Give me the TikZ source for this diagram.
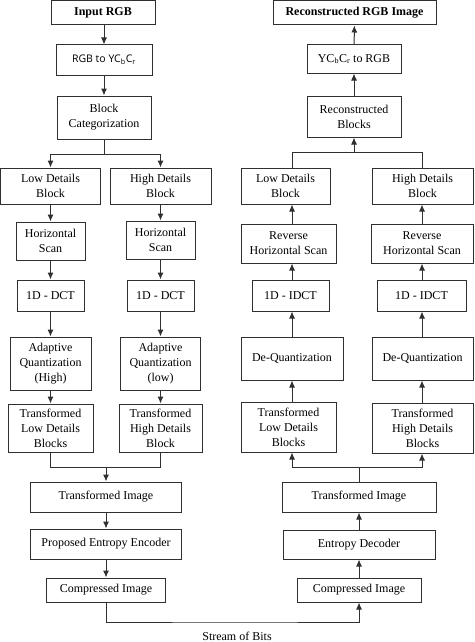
\documentclass[tikz,border=0pt]{standalone}
\usepackage{fontspec}
\setmainfont{Liberation Serif}
\newfontfamily\ycfont{Open Sans}
\usetikzlibrary{arrows.meta}
\definecolor{edge}{HTML}{303030}
\tikzset{
  blk/.style={draw=edge, line width=1pt, align=center,
    font=\fontsize{12}{15}\selectfont},
  sz/.style 2 args={minimum width=#1pt, minimum height=#2pt},
  ln/.style={draw=edge, line width=1pt},
  arr/.style={ln, -{Latex[length=7pt,width=6pt]}},
}

\begin{document}
\begin{tikzpicture}[x=1pt, y=-1pt, every node/.style={inner sep=0pt}]

\useasboundingbox (0,0) rectangle (474,642);

% columns the connectors run along
\coordinate (cA) at (104,0);
\coordinate (cR1) at (292,0);
\coordinate (cR2) at (422,0);
\coordinate (splitL) at (104,154);
\coordinate (joinR) at (354,152);
\coordinate (mergeL) at (106,467);
\coordinate (mergeR) at (359,467);
\coordinate (bits) at (237,622);

% encoder, left
\node[blk, sz={104}{24}] (inrgb) at (103,13) {\bfseries Input RGB};
\node[blk, sz={96}{30}] (ycc) at (104,60)
  {\ycfont\fontsize{10.5}{12}\selectfont RGB to YC\textsubscript{b}C\textsubscript{r}};
\node[blk, sz={94}{43}] (categ) at (104,117.5) {Block\\Categorization};

\node[blk, sz={100}{36}] (lo-blk) at (50.5,186) {Low Details\\Block};
\node[blk, sz={69}{38}] (lo-scan) at (50.5,241) {Horizontal\\Scan};
\node[blk, sz={67}{31}] (lo-dct) at (50.5,295.5) {1D - DCT};
\node[blk, sz={81}{53}] (lo-quant) at (50.5,363.5) {Adaptive\\Quantization\\(High)};
\node[blk, sz={85}{48}] (lo-tr) at (50.5,428) {Transformed\\Low Details\\Blocks};

\node[blk, sz={101}{36}] (hi-blk) at (160.5,186) {High Details\\Block};
\node[blk, sz={69}{38}] (hi-scan) at (160.5,240) {Horizontal\\Scan};
\node[blk, sz={67}{31}] (hi-dct) at (160.5,295.5) {1D - DCT};
\node[blk, sz={80}{53}] (hi-quant) at (160.5,363.5) {Adaptive\\Quantization\\(low)};
\node[blk, sz={83}{48}] (hi-tr) at (160.5,428) {Transformed\\High Details\\Block};

\node[blk, sz={151}{30}] (timgL) at (106,497) {Transformed Image};
\node[blk, sz={151}{30}] (enc) at (106,544) {Proposed Entropy Encoder};
\node[blk, sz={119}{24}] (compL) at (106,590) {Compressed Image};

% decoder, right
\node[blk, sz={163}{24}] (outrgb) at (354.5,13) {\bfseries Reconstructed RGB Image};
\node[blk, sz={94}{28}] (rgbback) at (354,59) {YC\textsubscript{b}C\textsubscript{r} to RGB};
\node[blk, sz={94}{41}] (recblk) at (354,116.5) {Reconstructed\\Blocks};

\node[blk, sz={89}{36}] (dlo-blk) at (285.5,186) {Low Details\\Block};
\node[blk, sz={95}{39}] (dlo-scan) at (288.5,243.5) {Reverse\\Horizontal Scan};
\node[blk, sz={77}{31}] (dlo-idct) at (290.5,295.5) {1D - IDCT};
\node[blk, sz={102}{43}] (dlo-dq) at (292,358.5) {De-Quantization};
\node[blk, sz={95}{50}] (dlo-tr) at (288.5,427) {Transformed\\Low Details\\Blocks};

\node[blk, sz={101}{36}] (dhi-blk) at (422.5,186) {High Details\\Block};
\node[blk, sz={102}{39}] (dhi-scan) at (422,243.5) {Reverse\\Horizontal Scan};
\node[blk, sz={89}{31}] (dhi-idct) at (421.5,295.5) {1D - IDCT};
\node[blk, sz={101}{43}] (dhi-dq) at (422.5,358.5) {De-Quantization};
\node[blk, sz={101}{50}] (dhi-tr) at (422.5,428) {Transformed\\High Details\\Blocks};

\node[blk, sz={154}{30}] (timgR) at (359,497) {Transformed Image};
\node[blk, sz={152}{29}] (dec) at (359,544.5) {Entropy Decoder};
\node[blk, sz={124}{24}] (compR) at (359,590) {Compressed Image};

\node[font=\fontsize{12}{15}\selectfont] (bitsLbl) at (237,636) {Stream of Bits};

% encoder connectors
\draw[arr] (cA |- inrgb.south) -- (cA |- ycc.north);
\draw[arr] (cA |- ycc.south) -- (cA |- categ.north);
\draw[ln] (cA |- categ.south) -- (splitL);
\draw[arr] (splitL) -| (lo-blk.north);
\draw[arr] (splitL) -| (hi-blk.north);
\foreach \p in {lo, hi}{
  \draw[arr] (\p-blk) -- (\p-scan);
  \draw[arr] (\p-scan) -- (\p-dct);
  \draw[arr] (\p-dct) -- (\p-quant);
  \draw[arr] (\p-quant) -- (\p-tr);
  \draw[ln] (\p-tr.south) |- (mergeL);
}
\draw[arr] (mergeL) -- (timgL.north);
\draw[arr] (timgL) -- (enc);
\draw[arr] (enc) -- (compL);

% stream of bits
\draw[arr] (compL.south) |- (bits) -| (compR.south);

% decoder connectors
\draw[arr] (compR) -- (dec);
\draw[arr] (dec) -- (timgR);
\draw[ln] (timgR.north) -- (mergeR);
\draw[arr] (mergeR) -| (cR1 |- dlo-tr.south);
\draw[arr] (mergeR) -| (cR2 |- dhi-tr.south);
\foreach \p/\c in {dlo/cR1, dhi/cR2}{
  \draw[arr] (\c |- \p-tr.north) -- (\c |- \p-dq.south);
  \draw[arr] (\c |- \p-dq.north) -- (\c |- \p-idct.south);
  \draw[arr] (\c |- \p-idct.north) -- (\c |- \p-scan.south);
  \draw[arr] (\c |- \p-scan.north) -- (\c |- \p-blk.south);
}
\draw[ln] (cR1 |- dlo-blk.north) |- (joinR);
\draw[ln] (cR2 |- dhi-blk.north) |- (joinR);
\draw[arr] (joinR) -- (recblk.south);
\draw[arr] (recblk) -- (rgbback);
\draw[arr] (rgbback) -- (outrgb);

\end{tikzpicture}
\end{document}
